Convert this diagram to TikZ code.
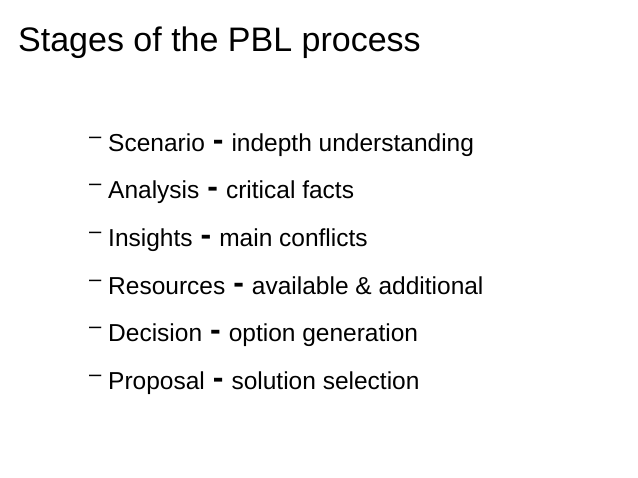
\documentclass[tikz,border=0pt]{standalone}
\usepackage{fontspec}
\setmainfont{Liberation Sans}
\begin{document}
\begin{tikzpicture}[x=1pt,y=-1pt,
  txt/.style={anchor=base west,inner sep=0pt,font=\fontsize{24.5}{28}\selectfont},
  bul/.style={anchor=base west,inner sep=0pt,font=\fontsize{22}{26}\selectfont}]
\useasboundingbox (0,0) rectangle (638,478);
\node[anchor=base west,inner sep=0pt,font=\fontsize{34}{38}\selectfont] (title) at (18,52) {Stages of the PBL process};
\foreach \y/\a/\b [count=\i] in {152/Scenario/indepth understanding,199/Analysis/critical facts,247/Insights/main conflicts,295/Resources/available \& additional,342/Decision/option generation,390/Proposal/solution selection}{
  \node[bul] (b\i) at (89,\y-8) {–};
  \node[txt] (t\i) at (108,\y) {\a\hspace{8pt}{\fontsize{32}{32}\selectfont\bfseries\raisebox{1pt}{-}}\hspace{8pt}\b};
}
\end{tikzpicture}
\end{document}
